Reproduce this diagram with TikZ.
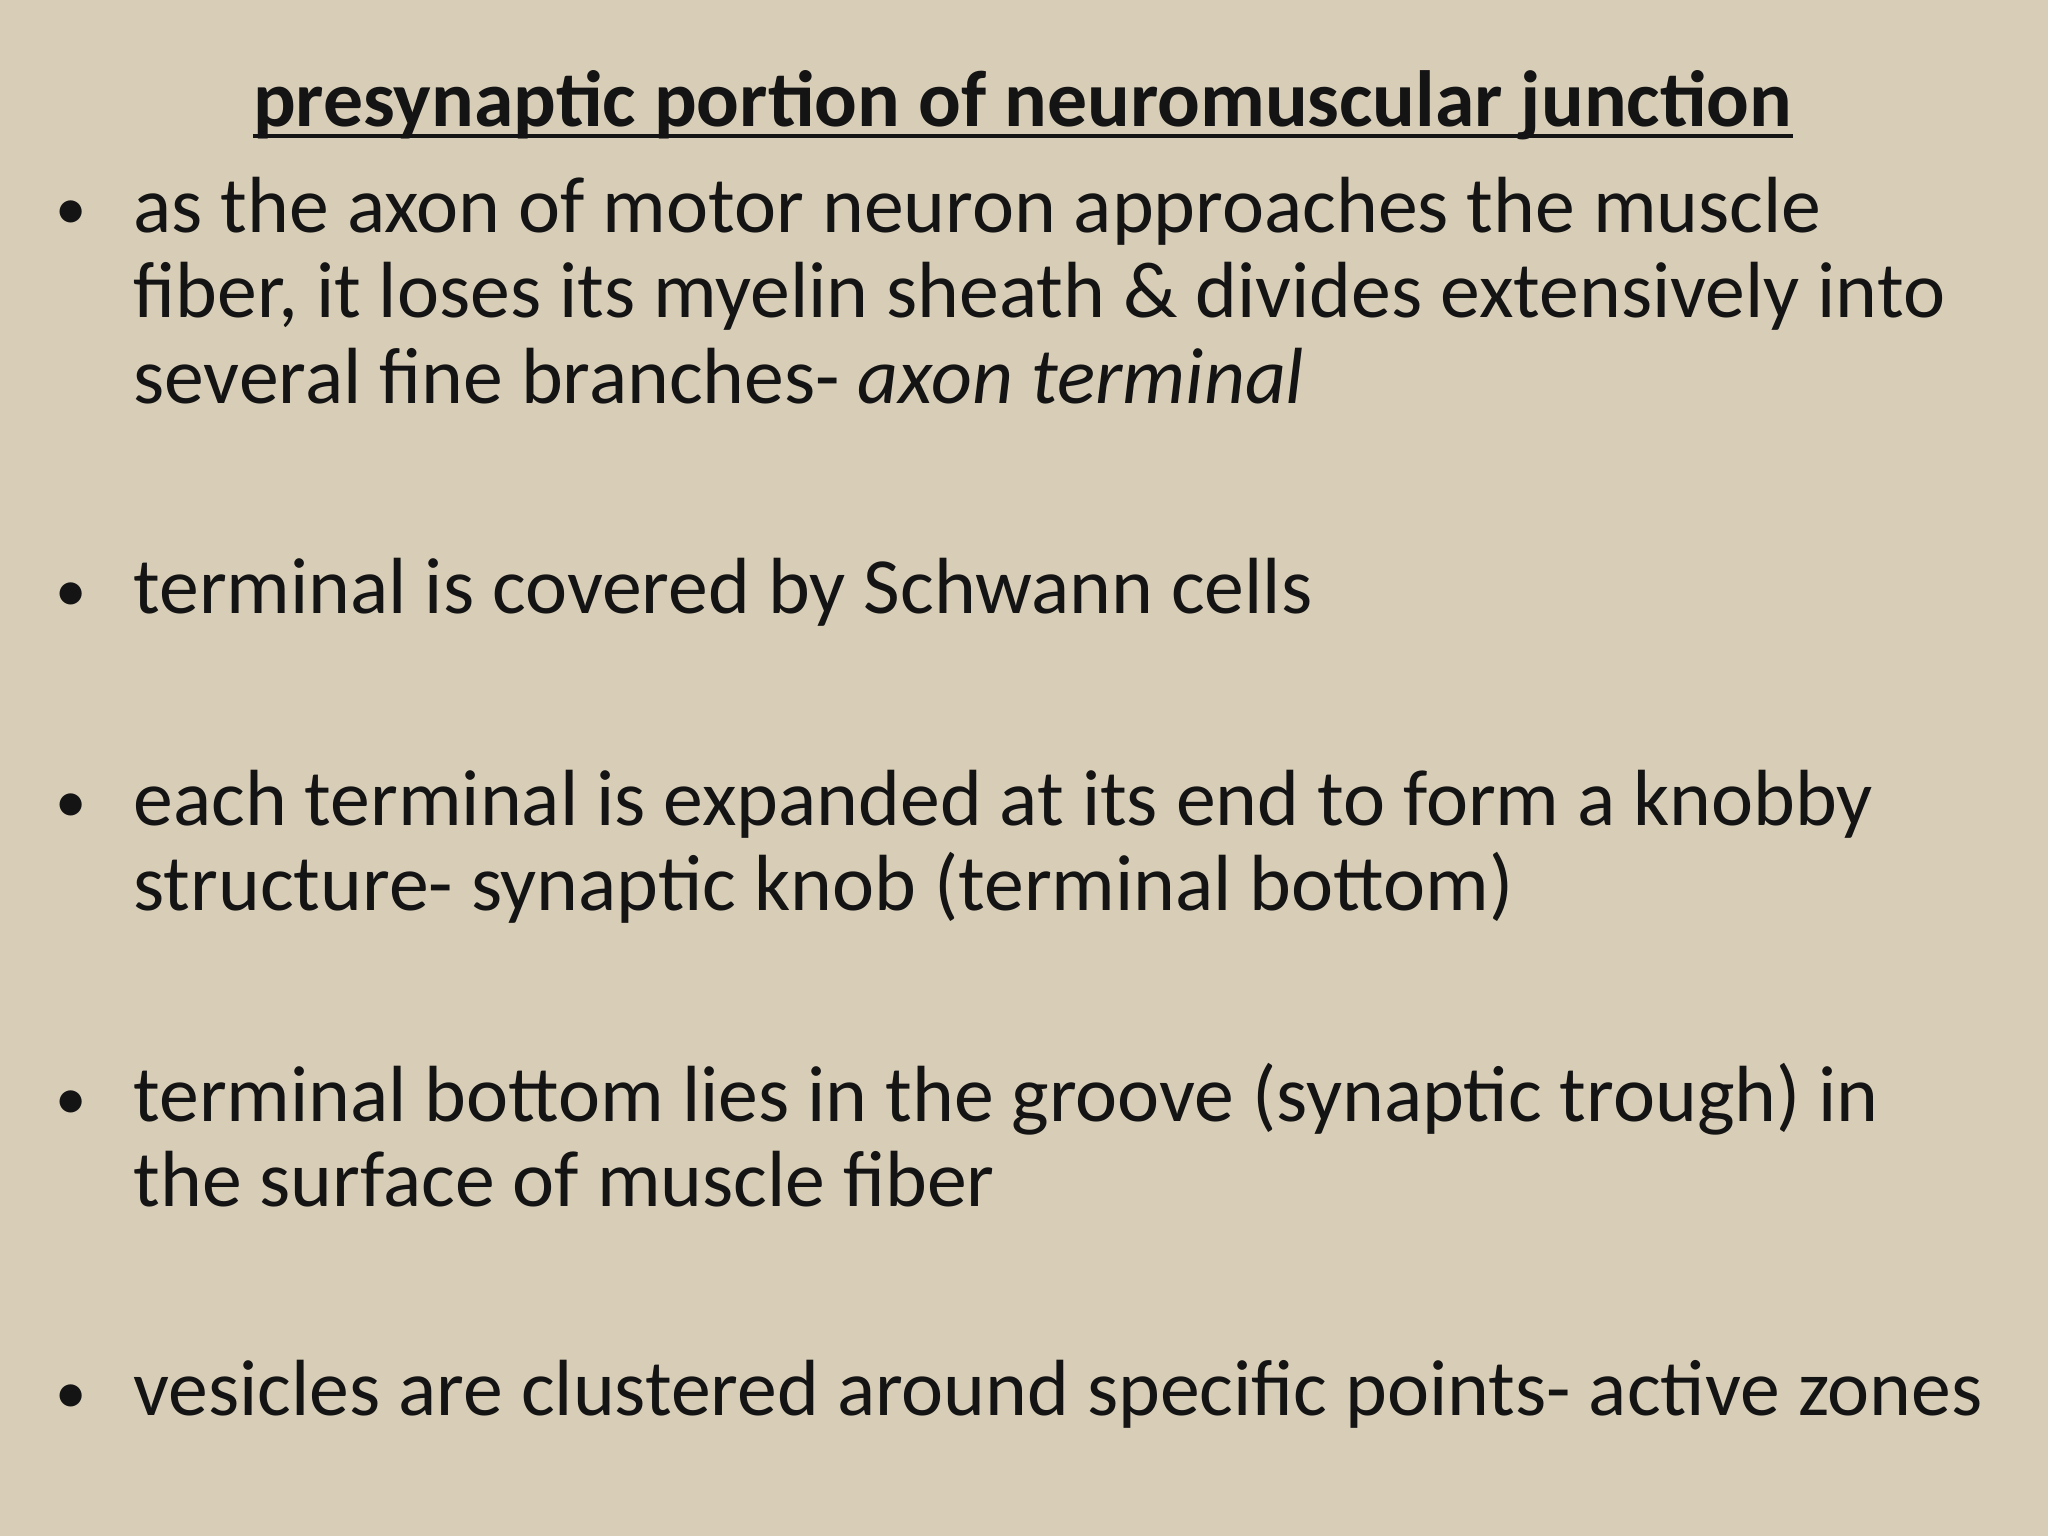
\documentclass[tikz,border=0pt]{standalone}
\usepackage{fontspec}
\setmainfont{Carlito}
\definecolor{bg}{HTML}{D8CEB8}
\definecolor{ink}{HTML}{141414}
\begin{document}
\begin{tikzpicture}[x=1pt,y=-1pt,
  ln/.style={anchor=base west,inner sep=0pt,text=ink,font=\fontsize{61}{66}\selectfont},
  bul/.style={anchor=base west,inner sep=0pt,text=ink,font=\fontsize{48}{66}\selectfont}]
\fill[bg] (0,0) rectangle (1568,1176);
\useasboundingbox (0,0) rectangle (1568,1176);
\node[anchor=base,inner sep=0pt,text=ink,font=\fontsize{61}{70}\selectfont\bfseries] (title) at (783,97) {presynaptic portion of neuromuscular junction};
\draw[ink,line width=3pt] (title.base west)++(0,7) -- ([yshift=-7pt]title.base east);
\node[bul] (b1) at (42,176) {\textbullet};
\node[ln] (l1a) at (102,178) {as the axon of motor neuron approaches the muscle};
\node[ln] (l1b) at (102,243) {fiber, it loses its myelin sheath \& divides extensively into};
\node[ln] (l1c) at (102,309) {several fine branches- \textit{axon terminal}};
\node[bul] (b2) at (42,468) {\textbullet};
\node[ln] (l2a) at (102,470) {terminal is covered by Schwann cells};
\node[bul] (b3) at (42,630) {\textbullet};
\node[ln] (l3a) at (102,632) {each terminal is expanded at its end to form a knobby};
\node[ln] (l3b) at (102,697) {structure- synaptic knob (terminal bottom)};
\node[bul] (b4) at (42,857) {\textbullet};
\node[ln] (l4a) at (102,859) {terminal bottom lies in the groove (synaptic trough) in};
\node[ln] (l4b) at (102,924) {the surface of muscle fiber};
\node[bul] (b5) at (42,1082) {\textbullet};
\node[ln] (l5a) at (102,1084) {vesicles are clustered around specific points- active zones};
\end{tikzpicture}
\end{document}
